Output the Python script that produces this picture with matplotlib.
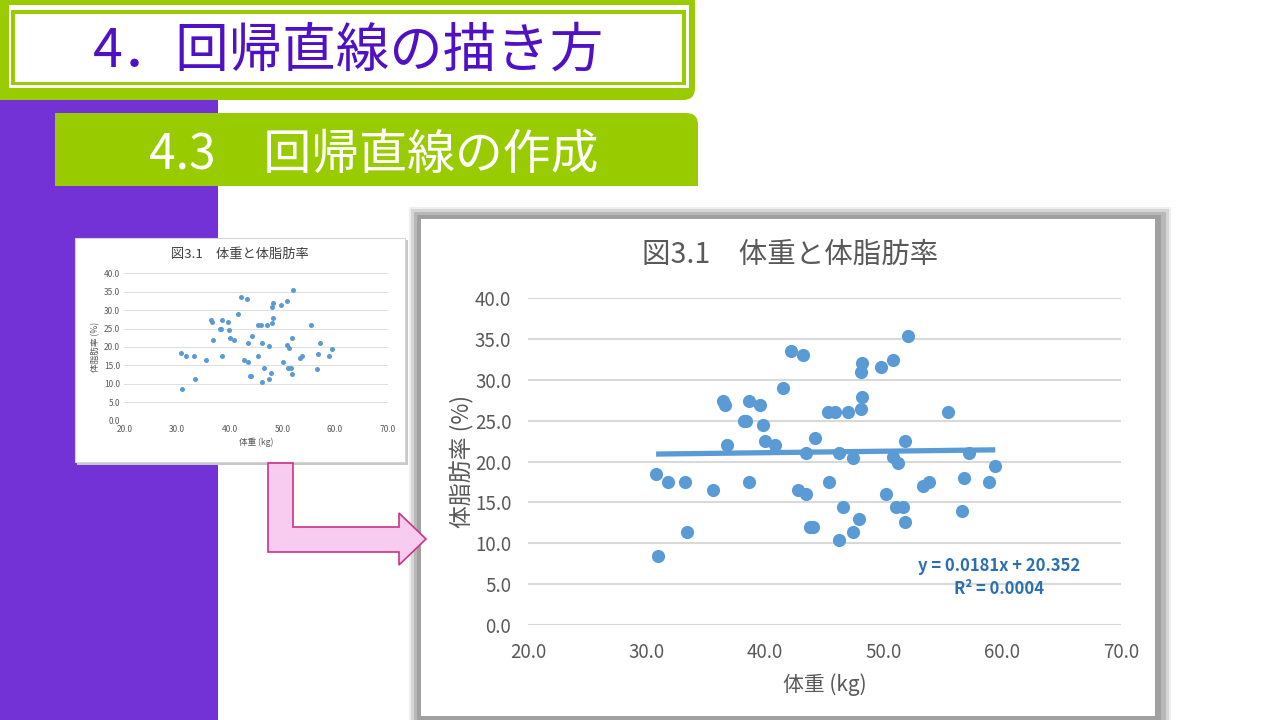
import numpy as np
import matplotlib
matplotlib.use("Agg")
import matplotlib.pyplot as plt
from matplotlib.patches import Rectangle, FancyBboxPatch, Polygon

plt.rcParams['font.family'] = ['Noto Sans CJK JP', 'DejaVu Sans']

# data (体重 kg, 体脂肪率 %)
weight = [30.8, 31.0, 31.8, 33.2, 33.4, 35.6, 36.4, 36.6, 36.8, 38.2, 38.4, 38.6,
          38.6, 39.6, 39.8, 40.0, 40.8, 41.5, 42.2, 42.8, 43.2, 43.4, 43.4, 43.8,
          44.0, 44.2, 45.4, 45.3, 45.9, 46.2, 46.2, 46.6, 47.0, 47.4, 47.4, 47.9,
          48.1, 48.2, 48.2, 48.1, 49.8, 50.2, 50.8, 50.8, 51.0, 51.2, 51.6, 51.8,
          51.8, 52.0, 53.3, 53.8, 55.4, 56.6, 56.8, 57.2, 58.9, 59.4]
fat = [18.5, 8.5, 17.5, 17.5, 11.4, 16.5, 27.4, 26.9, 22.0, 25.0, 25.0, 27.4,
       17.5, 26.9, 24.5, 22.5, 22.0, 29.0, 33.5, 16.5, 33.0, 21.1, 16.0, 12.0,
       12.0, 22.9, 17.5, 26.0, 26.0, 10.4, 21.0, 14.4, 26.0, 11.4, 20.4, 13.0,
       30.9, 32.0, 27.9, 26.4, 31.5, 16.0, 32.4, 20.5, 14.4, 19.8, 14.4, 22.5,
       12.6, 35.4, 17.0, 17.5, 26.0, 13.9, 18.0, 21.0, 17.5, 19.4]
slope = 0.0181
intercept = 20.352
r2 = 0.0004

x_ticks = [20, 30, 40, 50, 60, 70]
y_ticks = [0, 5, 10, 15, 20, 25, 30, 35, 40]

slide_title = "4．回帰直線の描き方"
section_title = "4.3　回帰直線の作成"
chart_title = "図3.1　体重と体脂肪率"
x_label = "体重 (kg)"
y_label = "体脂肪率 (%)"

GREEN = "#99CC00"
PURPLE = "#7232D6"
TITLE_PURPLE = "#5010C4"
DOT = "#5B9BD5"
GRID = "#D9D9D9"
TXT = "#595959"

fig = plt.figure(figsize=(12.8, 7.2), dpi=100)
fig.patch.set_facecolor("white")

# background layer in pixel coords
bg = fig.add_axes([0, 0, 1, 1], zorder=0)
bg.set_xlim(0, 1280)
bg.set_ylim(720, 0)
bg.axis("off")

# purple band on left
bg.add_patch(Rectangle((0, 95), 218, 630, color=PURPLE, lw=0))

# top title box (only bottom-right corner rounded)
bg.add_patch(FancyBboxPatch((-30, -30), 725, 130,
                            boxstyle="round,pad=0,rounding_size=12", color=GREEN, lw=0))
bg.add_patch(Rectangle((9, 5), 680, 83, color="white", lw=0))
bg.add_patch(Rectangle((11, 10), 675, 75, color=GREEN, lw=0))
bg.add_patch(Rectangle((15, 14), 667, 68, color="white", lw=0))
bg.text(349, 51, slide_title, color=TITLE_PURPLE, fontsize=38.5,
        ha="center", va="center")

# section bar (top-right corner rounded)
bg.add_patch(FancyBboxPatch((55, 113), 643, 73,
                            boxstyle="round,pad=0,rounding_size=12", color=GREEN, lw=0))
bg.add_patch(Rectangle((55, 113), 600, 73, color=GREEN, lw=0))
bg.add_patch(Rectangle((55, 150), 643, 36, color=GREEN, lw=0))
bg.text(374, 155, section_title, color="white", fontsize=34.5,
        ha="center", va="center")

# small chart frame
bg.add_patch(Rectangle((77, 240), 331, 225, color="#C8C8C8", lw=0))
bg.add_patch(Rectangle((75, 238), 330, 224, facecolor="white", edgecolor="#D5D5D5", lw=0.8))

# big chart frame with soft shadow
bg.add_patch(Rectangle((409, 207), 762, 520, color="#EEEEEE", lw=0))
bg.add_patch(Rectangle((411, 209), 758, 520, color="#D6D6D6", lw=0))
bg.add_patch(Rectangle((414, 212), 752, 520, color="#B8B8B8", lw=0))
bg.add_patch(Rectangle((417, 215), 744, 520, color="#A0A0A0", lw=0))
bg.add_patch(Rectangle((421, 219), 734, 497, color="white", lw=0))

# pink bent arrow
arrow = [(268, 463), (293, 463), (293, 527), (399, 527), (399, 513),
         (426, 539), (399, 565), (399, 552), (268, 552)]
bg.add_patch(Polygon(arrow, closed=True, facecolor="#F8CCF0",
                     edgecolor="#CC3388", lw=1.2))


def style_axes(ax, tick_size, grid_lw, pad):
    ax.set_xlim(20, 70)
    ax.set_ylim(0, 40)
    ax.set_xticks(x_ticks)
    ax.set_yticks(y_ticks)
    ax.set_xticklabels([f"{t:.1f}" for t in x_ticks], fontsize=tick_size, color=TXT)
    ax.set_yticklabels([f"{t:.1f}" for t in y_ticks], fontsize=tick_size, color=TXT)
    ax.tick_params(length=0, pad=pad)
    ax.grid(axis="y", color=GRID, lw=grid_lw)
    ax.set_axisbelow(True)
    for s in ax.spines.values():
        s.set_visible(False)
    ax.set_facecolor("none")


# small chart
ax_s = fig.add_axes([124.3 / 1280, 1 - 420.7 / 720, 263.4 / 1280, 147.4 / 720], zorder=2)
style_axes(ax_s, 6.0, 0.6, 3)
ax_s.scatter(weight, fat, s=13, color=DOT, lw=0, zorder=3)
ax_s.set_xlabel(x_label, fontsize=6.2, color=TXT, labelpad=3)
ax_s.set_ylabel(y_label, fontsize=6.2, color=TXT, labelpad=3)
fig.text(240 / 1280, 1 - 254 / 720, chart_title, fontsize=9.5, color="#404040",
         ha="center", va="center", zorder=3)

# big chart
ax = fig.add_axes([528 / 1280, 1 - 625 / 720, 593 / 1280, 327 / 720], zorder=2)
style_axes(ax, 13.5, 1.5, 12)
ax.scatter(weight, fat, s=90, color=DOT, lw=0, zorder=3)
xs = np.array([min(weight), max(weight)])
ax.plot(xs, slope * xs + intercept, color=DOT, lw=3.8, solid_capstyle="butt", zorder=4)
ax.set_xlabel(x_label, fontsize=15, color=TXT, labelpad=8)
ax.set_ylabel(y_label, fontsize=16.5, color=TXT, labelpad=0)
ax.text(59.7, 7.2, f"y = {slope}x + {intercept}", fontsize=12,
        fontweight="bold", color="#2A70B0", ha="center", va="center", zorder=5)
ax.text(59.7, 4.4, f"R² = {r2}", fontsize=12,
        fontweight="bold", color="#2A70B0", ha="center", va="center", zorder=5)
fig.text(790 / 1280, 1 - 255 / 720, chart_title, fontsize=20.5, color=TXT,
         ha="center", va="center", zorder=3)

fig.savefig("out.png", dpi=100)
